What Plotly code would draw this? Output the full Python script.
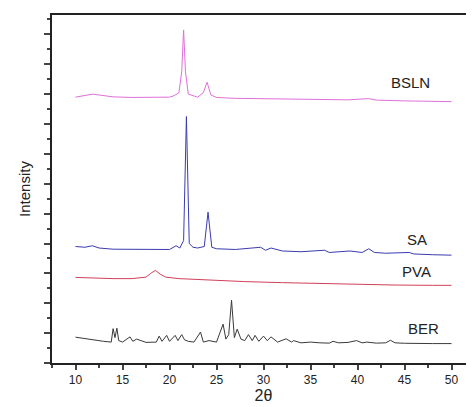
import plotly.graph_objects as go

# readings (2θ, intensity in arbitrary offset units)
ber_x = [10, 11, 12, 13, 13.8, 14.0, 14.2, 14.4, 14.6, 15.0, 15.8, 16.1, 16.5, 17.5, 18.6, 18.9, 19.2, 19.7, 20.0, 20.6,
         20.9, 21.3, 21.6, 22.0, 22.6, 23.3, 23.6, 24.2, 25.0, 25.7, 26.0, 26.3, 26.6, 26.9, 27.2, 27.6, 28.0, 28.4,
         28.8, 29.1, 29.5, 30.0, 30.4, 30.8, 31.5, 32.4, 33.0, 33.2, 34.0, 35.0, 36.0, 37.0, 37.4, 38.0, 39.0, 39.9,
         40.5, 41.0, 42.0, 43.0, 43.5, 44.0, 45.0, 46.0, 47.0, 48.0, 49.0, 50.0]
ber_y = [1.73, 1.62, 1.55, 1.45, 1.4, 2.3, 1.7, 2.33, 1.5, 1.4, 1.75, 1.45, 1.6, 1.38, 1.4, 1.8, 1.45, 1.85, 1.45, 1.85,
         1.5, 1.9, 1.55, 1.45, 1.4, 2.07, 1.4, 1.5, 1.4, 2.6, 1.6, 1.9, 4.2, 1.7, 2.27, 1.6, 1.5, 1.9, 1.5, 1.85, 1.45,
         1.8, 1.5, 1.75, 1.4, 1.62, 1.4, 1.5, 1.35, 1.4, 1.35, 1.33, 1.45, 1.35, 1.38, 1.5, 1.35, 1.4, 1.33, 1.35, 1.52,
         1.35, 1.32, 1.3, 1.33, 1.3, 1.3, 1.3]

pva_x = [10, 12, 14, 16, 17.5, 18.0, 18.5, 19.0, 19.6, 21, 24, 28, 32, 36, 40, 44, 48, 50]
pva_y = [5.73, 5.68, 5.65, 5.65, 5.75, 6.0, 6.2, 5.95, 5.75, 5.65, 5.55, 5.45, 5.38, 5.32, 5.27, 5.22, 5.2, 5.2]

sa_x = [10, 11, 11.8, 12.5, 14, 16, 18, 20, 20.7, 21.1, 21.5, 21.8, 22.1, 22.5, 23.0, 23.7, 24.1, 24.5, 25.0, 27, 29.7,
        30.2, 30.8, 32, 34, 36.5, 37, 39.2, 40.5, 41.2, 41.8, 43, 45.5, 46, 48, 50]
sa_y = [7.8, 7.75, 7.85, 7.7, 7.62, 7.6, 7.58, 7.6, 7.85, 7.7, 8.2, 16.5, 8.0, 7.75, 7.7, 7.8, 10.1, 7.75, 7.65, 7.6,
        7.75, 7.55, 7.7, 7.5, 7.45, 7.55, 7.4, 7.5, 7.4, 7.65, 7.4, 7.35, 7.4, 7.3, 7.25, 7.22]

bsln_x = [10, 11, 11.8, 12.8, 14, 16, 18, 20, 20.5, 21.0, 21.3, 21.5, 21.7, 22.0, 22.5, 23.0, 23.6, 24.0, 24.4, 25.0,
          27, 30, 33, 36, 39, 41.2, 42, 45, 48, 50]
bsln_y = [17.8, 17.9, 18.0, 17.92, 17.82, 17.78, 17.78, 17.8, 17.9, 18.1, 19.5, 22.3, 19.5, 18.0, 17.9, 17.8, 18.1,
          18.8, 17.95, 17.78, 17.72, 17.7, 17.68, 17.65, 17.62, 17.7, 17.6, 17.55, 17.52, 17.5]

labels = ["BSLN", "SA", "PVA", "BER"]
label_x = [45.6, 46.3, 46.3, 47.0]
label_y = [18.8, 8.3, 6.1, 2.3]

x_ticks = [10, 15, 20, 25, 30, 35, 40, 45, 50]

fig = go.Figure()
for xs, ys, col in [(ber_x, ber_y, "#3a3a3a"), (pva_x, pva_y, "#d0405a"),
                    (sa_x, sa_y, "#3b3bb0"), (bsln_x, bsln_y, "#e070d8")]:
    fig.add_trace(go.Scatter(x=xs, y=ys, mode="lines", line=dict(color=col, width=1), showlegend=False))

for t, lx, ly in zip(labels, label_x, label_y):
    fig.add_annotation(x=lx, y=ly, text=t, showarrow=False, font=dict(size=15, color="#222"))

fig.update_layout(
    width=474, height=407,
    margin=dict(l=44, r=6, t=5, b=52),
    plot_bgcolor="white", paper_bgcolor="white",
    font=dict(family="Liberation Sans, Arial, sans-serif", color="#222"),
)
fig.update_xaxes(range=[7.5, 52.5], tickvals=x_ticks, ticks="outside", ticklen=5, tickwidth=1.5,
                 minor=dict(dtick=2.5, ticks="outside", ticklen=3, tick0=7.5),
                 showline=True, linecolor="#222", linewidth=2, mirror=True, showgrid=False,
                 tickfont=dict(size=12), title=dict(text="2θ", font=dict(size=16), standoff=2))
fig.update_yaxes(range=[0, 23.3], dtick=2, tick0=0, ticks="outside", ticklen=6, tickwidth=1.5, showticklabels=False,
                 minor=dict(dtick=1, ticks="outside", ticklen=3),
                 showline=True, linecolor="#222", linewidth=2, mirror=True, showgrid=False, zeroline=False,
                 title=dict(text="Intensity", font=dict(size=15), standoff=10))

fig.write_html("out.html")
